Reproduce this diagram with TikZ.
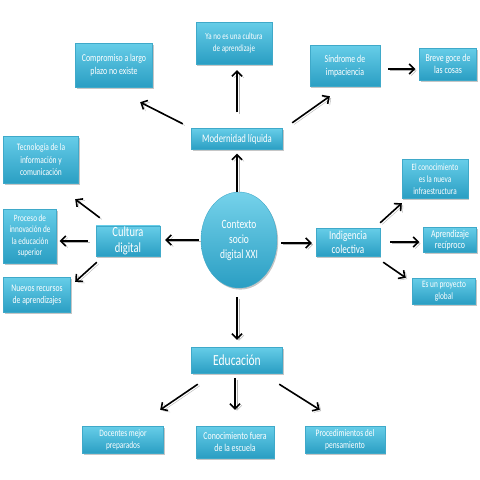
\documentclass[tikz,border=0pt]{standalone}
\usepackage{fontspec}
\setmainfont[FakeStretch=0.75]{Carlito}
\usetikzlibrary{arrows.meta,shapes.geometric,shadows,calc}
\definecolor{boxtop}{HTML}{66CDE8}
\definecolor{boxbot}{HTML}{2A9EC3}
\definecolor{boxborde}{HTML}{3FA9C9}

\begin{document}
\begin{tikzpicture}[x=1pt,y=-1pt,
  caja/.style={draw=boxborde, line width=0.4pt, top color=boxtop, bottom color=boxbot,
    text=white, align=center, inner sep=1pt,
    drop shadow={shadow xshift=1.2pt, shadow yshift=-1.6pt, opacity=0.45}},
  letra/.style 2 args={font=\fontsize{#1}{#2}\selectfont},
  flecha/.style={line width=1.6pt, -{Straight Barb[length=5pt,width=10pt]},
    preaction={draw=gray!60, transform canvas={xshift=2pt,yshift=-1.6pt}}}]
\useasboundingbox (0,0) rectangle (480,480);
\node[caja,letra={10.5}{12.5},minimum width=77pt,minimum height=44pt] (comp) at (114,65) {Compromiso a largo\\plazo no existe};
\node[caja,letra={9.4}{11.5},minimum width=76pt,minimum height=42pt] (yano) at (234,43) {Ya no es una cultura\\de aprendizaje};
\node[caja,letra={10.5}{12.5},minimum width=70pt,minimum height=41pt] (sind) at (345,66) {Síndrome de\\impaciencia};
\node[caja,letra={10.5}{12}, minimum width=57pt,minimum height=32pt] (breve) at (448,64) {Breve goce de\\las cosas};
\node[caja,letra={11.6}{13}, minimum width=91pt,minimum height=21pt] (mod) at (237,139) {Modernidad líquida};
\node[caja,ellipse,letra={12.6}{15},minimum width=76pt,minimum height=96pt,top color=boxtop!90,bottom color=boxbot] (ctx) at (239,240) {Contexto\\socio\\digital XXI};
\node[caja,letra={14}{16},minimum width=64pt,minimum height=30pt] (cult) at (128,241) {Cultura\\digital};
\node[caja,letra={9.9}{12.5},minimum width=75pt,minimum height=47pt] (tic) at (41,160) {Tecnología de la\\información y\\comunicación};
\node[caja,letra={9.6}{11.3},minimum width=53pt,minimum height=54pt] (proc) at (30,236) {Proceso de\\innovación de\\la educación\\superior};
\node[caja,letra={10.2}{12.5},minimum width=67pt,minimum height=35pt] (nuev) at (37,295) {Nuevos recursos\\de aprendizajes};
\node[caja,letra={12.2}{14},minimum width=64pt,minimum height=28pt] (indi) at (348,242) {Indigencia\\colectiva};
\node[caja,letra={9.6}{12},minimum width=66pt,minimum height=39pt] (conoc) at (435,179) {El conocimiento\\es la nueva\\infraestructura};
\node[caja,letra={10.5}{11.5},minimum width=53pt,minimum height=25pt] (apre) at (450,240) {Aprendizaje\\recíproco};
\node[caja,letra={9.8}{12},minimum width=63pt,minimum height=26pt] (proy) at (444,291) {Es un proyecto\\global};
\node[caja,letra={15.4}{17},minimum width=91pt,minimum height=26pt] (edu) at (237,360) {Educación};
\node[caja,letra={9.8}{12},minimum width=81pt,minimum height=27pt] (doc) at (123,440) {Docentes mejor\\preparados};
\node[caja,letra={10.5}{12.5},minimum width=78pt,minimum height=32pt] (cfue) at (235,442) {Conocimiento fuera\\de la escuela};
\node[caja,letra={10}{12.5},minimum width=80pt,minimum height=27pt] (pens) at (345,440) {Procedimientos del\\pensamiento};
\draw[flecha] ($(mod.north west)+(-8.5,-4.5)$) -- ($(comp.south east)+(-12.5,15)$);
\draw[flecha,shorten <=16pt,shorten >=6pt] (mod.north) -- (mod.north |- yano.south);
\draw[flecha] ($(mod.north east)+(9.5,-5.5)$) -- ($(sind.south west)+(20,9.5)$);
\draw[flecha,shorten <=8pt,shorten >=4pt] ($(sind.east)+(0,3)$) -- ($(sind.east -| breve.west)+(0,3)$);
\draw[flecha,shorten >=4pt] (ctx.north -| mod.south) -- (mod.south);
\draw[flecha,shorten <=2pt,shorten >=5pt] (ctx.west) -- (ctx.west -| cult.east);
\draw[flecha] ($(cult.north west)+(4,-8)$) -- ($(tic.south east)+(-3.5,15.5)$);
\draw[flecha,shorten <=8pt,shorten >=3pt] (cult.west) -- (cult.west -| proc.east);
\draw[flecha] ($(cult.south west)+(1,6)$) -- ($(nuev.north east)+(4.5,4.5)$);
\draw[flecha,shorten <=4pt,shorten >=4pt] ($(ctx.east)+(0,3)$) -- ($(ctx.east -| indi.west)+(0,3)$);
\draw[flecha] ($(indi.north east)+(0,-5)$) -- ($(conoc.south west)+(0,4.5)$);
\draw[flecha,shorten <=10pt,shorten >=4pt] (indi.east) -- (indi.east -| apre.west);
\draw[flecha] ($(indi.south east)+(3,6)$) -- ($(proy.north west)+(-6.5,0)$);
\draw[flecha,shorten <=9pt,shorten >=7pt] (ctx.south -| edu.north) -- (edu.north);
\draw[flecha] ($(edu.south west)+(6.5,11)$) -- ($(doc.north east)+(-3.5,-16.5)$);
\draw[flecha,shorten <=5pt,shorten >=16pt] ($(edu.south)+(-2,0)$) -- ($(edu.south |- cfue.north)+(-2,0)$);
\draw[flecha] ($(edu.south east)+(-3.5,11)$) -- ($(pens.north west)+(15,-16.5)$);
\end{tikzpicture}
\end{document}
